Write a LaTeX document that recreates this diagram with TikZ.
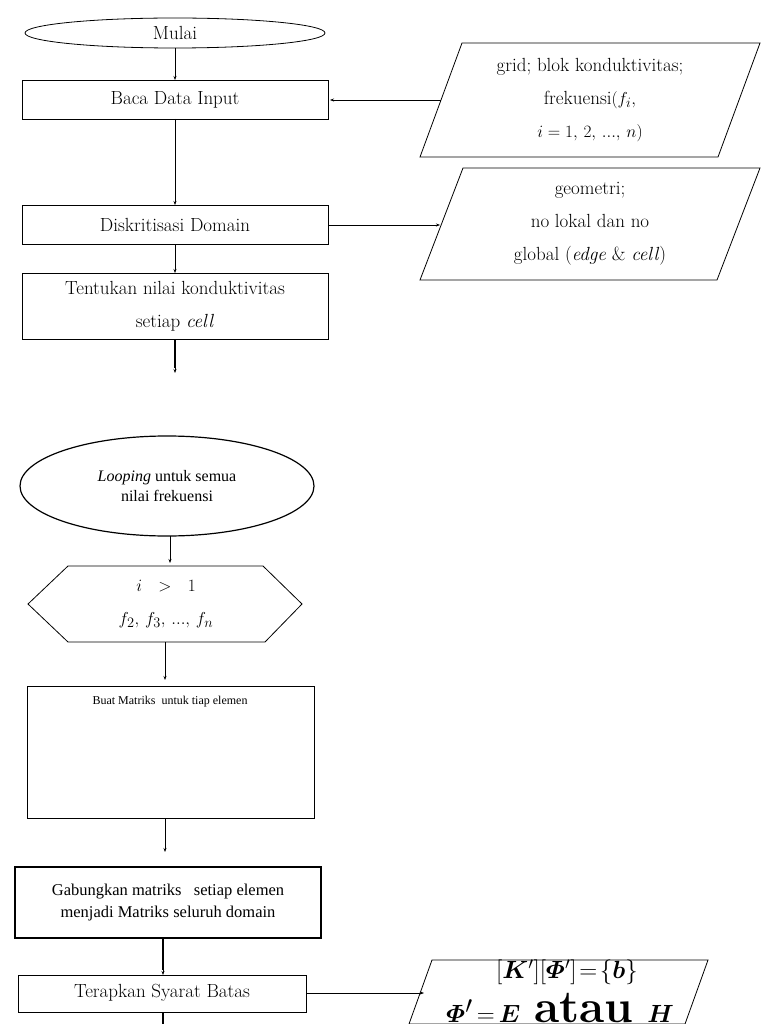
\documentclass[tikz,border=0pt]{standalone}
\usepackage{fontspec}
\newfontfamily\tnr{Liberation Serif}
\usepackage{amsmath,bm}
\usetikzlibrary{shapes.geometric,arrows.meta}
\begin{document}
\begin{tikzpicture}[x=1pt,y=-1pt,
  box/.style={draw,line width=0.8pt},
  arr/.style={-{Stealth[length=4pt,width=3pt]},line width=0.7pt},
  lm/.style={font=\fontsize{19}{23}\selectfont,align=center},
  lm3/.style={font=\fontsize{19}{33}\selectfont,align=center}]
\useasboundingbox (0,0) rectangle (768,1024);
\fill[white] (0,0) rectangle (768,1024);
% Mulai
\draw[line width=0.8pt] (175,33) ellipse (150 and 15);
\node[lm] (mulai) at (175,33) {Mulai};
\coordinate (mulaiB) at (175,48);
\draw[box] (22,80) rectangle (328,119);
\node[lm] (baca) at (175,100) {Baca Data Input};
\draw[arr] (mulaiB) -- (175,80);
% para 1
\draw[line width=0.8pt] (462,43) -- (760,43) -- (718,157) -- (420,157) -- cycle;
\node[lm3] (p1) at (590,100) {grid; blok konduktivitas;\\ frekuensi$(f_i,$\\ $i=1,\,2,\,...,\,n)$};
\draw[arr] (441,100) -- (330,100);
\draw[arr] (175,119) -- (175,205);
\draw[box] (22,205) rectangle (328,244);
\node[lm] (disk) at (175,225) {Diskritisasi Domain};
\draw[arr] (328,225) -- (440,225);
\draw[line width=0.8pt] (463,168) -- (760,168) -- (717,280) -- (420,280) -- cycle;
\node[lm3] (p2) at (590,224) {geometri;\\ no lokal dan no\\ global (\textit{edge} \& \textit{cell})};
\draw[arr] (175,244) -- (175,273);
\draw[box] (22,273) rectangle (328,339);
\node[lm3] (tent) at (175,306) {Tentukan nilai konduktivitas\\ setiap \textit{cell}};
\draw[line width=1.6pt] (175,339) -- (175,368);
\draw[arr] (175,366) -- (175,373);
% Looping
\draw[line width=1.2pt] (167,486) ellipse (147 and 50);
\node[align=center,font=\tnr\fontsize{16}{20}\selectfont] (loop) at (167,486) {\textit{Looping} untuk semua\\ nilai frekuensi};
\draw[arr] (170,536) -- (170,563);
% hexagon
\draw[line width=0.8pt] (28,604) -- (68,566) -- (263,566) -- (302,604) -- (265,642) -- (68,642) -- cycle;
\node[lm3] (hex) at (166,604) {$i\ \ >\ \ 1$\\ $f_2,\,f_3,\,...,\,f_n$};
\draw[arr] (165,642) -- (165,680);
\draw[line width=0.8pt] (27,686) rectangle (314,818);
\node[font=\tnr\fontsize{12}{14}\selectfont] (buat) at (170,702) {Buat Matriks\ \ untuk tiap elemen};
\draw[arr] (165,818) -- (165,852);
\draw[line width=1.4pt] (15,867) rectangle (321,938);
\node[align=center,font=\tnr\fontsize{16.5}{22}\selectfont] (gab) at (168,903) {Gabungkan matriks\ \ \ setiap elemen\\ menjadi Matriks seluruh domain};
\draw[line width=2pt] (163,938) -- (163,970);
\draw[arr] (163,966) -- (163,975);
\draw[box] (18,975) rectangle (306,1012);
\node[lm] (ter) at (162,993) {Terapkan Syarat Batas};
\draw[line width=1.6pt] (163,1012) -- (163,1024);
\draw[arr] (306,993) -- (424,993);
\draw[line width=0.8pt] (432,960) -- (708,960) -- (685,1024) -- (409,1024) -- cycle;
\node[font=\fontsize{24}{26}\selectfont] (k) at (567,972) {$[\bm{K}'][\bm{\varPhi}']\!=\!\{\bm{b}\}$};
\node[font=\fontsize{46}{48}\selectfont] (phi) at (560,1008) {$\bm{\varPhi}'\,{=}\,\bm{E}$ \textbf{atau} $\bm{H}$};
\end{tikzpicture}
\end{document}
